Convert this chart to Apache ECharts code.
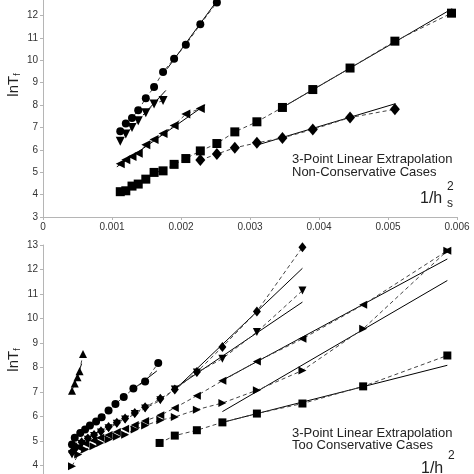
<!DOCTYPE html>
<html>
<head>
<meta charset="utf-8">
<script src="https://cdn.jsdelivr.net/npm/echarts@6/dist/echarts.min.js"></script>
<style>
  html, body { margin: 0; padding: 0; background: #fff; }
  #chart { width: 474px; height: 474px; }
</style>
</head>
<body>
<div id="chart"></div>
<script>
// x values are 1/h^2 in units of 1e-3, y values are lnT_f

// --- top panel: non-conservative cases ---
const topCircX = [1.12, 1.2, 1.29, 1.38, 1.49, 1.61, 1.74, 1.9, 2.07, 2.28, 2.52]
const topCircY = [6.83, 7.17, 7.42, 7.77, 8.3, 8.8, 9.47, 10.07, 10.69, 11.6, 12.58]
const topDownX = [1.12, 1.2, 1.29, 1.38, 1.49, 1.61, 1.74]
const topDownY = [6.38, 6.7, 7.0, 7.3, 7.65, 8.05, 8.2]
const topLeftX = [1.12, 1.2, 1.29, 1.38, 1.49, 1.61, 1.74, 1.9, 2.07, 2.28]
const topLeftY = [5.38, 5.56, 5.7, 5.85, 6.22, 6.46, 6.73, 7.08, 7.6, 7.84]
const topSqX = [1.12, 1.2, 1.29, 1.38, 1.49, 1.61, 1.74, 1.9, 2.07, 2.28, 2.52, 2.78, 3.1, 3.47, 3.91, 4.45, 5.1, 5.92]
const topSqY = [4.13, 4.17, 4.38, 4.47, 4.69, 4.99, 5.06, 5.35, 5.61, 5.95, 6.28, 6.8, 7.25, 7.89, 8.69, 9.65, 10.85, 12.1]
const topDiaX = [2.28, 2.52, 2.78, 3.1, 3.47, 3.91, 4.45, 5.1]
const topDiaY = [5.54, 5.81, 6.09, 6.31, 6.53, 6.91, 7.44, 7.81]

// 3-point fits (end points of the solid lines)
const topCircFit = [[1.8, 9.62], [2.58, 12.9]]
const topDownFit = [[1.45, 7.55], [1.78, 8.65]]
const topLeftFit = [[1.07, 5.24], [2.35, 8.0]]
const topSqFit = [[3.47, 7.89], [5.93, 12.3]]
const topDiaFit = [[3.1, 6.21], [5.11, 8.06]]

// --- bottom panel: too conservative cases ---
const botUpX = [0.42, 0.46, 0.5, 0.53, 0.58]
const botUpY = [7.05, 7.35, 7.6, 7.85, 8.55]
const botCircX = [0.42, 0.46, 0.54, 0.61, 0.68, 0.77, 0.85, 0.95, 1.05, 1.17, 1.31, 1.48, 1.67]
const botCircY = [4.86, 5.13, 5.33, 5.47, 5.63, 5.8, 5.97, 6.24, 6.51, 6.8, 7.14, 7.43, 8.18]
const botMidX = [0.42, 0.48, 0.56, 0.65, 0.74, 0.84, 0.95, 1.07, 1.19, 1.33, 1.48, 1.7, 1.91, 2.23, 2.6, 3.1, 3.76]
const botDiaY = [4.55, 4.75, 4.95, 5.1, 5.25, 5.4, 5.57, 5.74, 5.92, 6.14, 6.38, 6.72, 7.1, 7.82, 8.84, 10.29, 12.91]
const botDownY = [4.45, 4.68, 4.88, 5.05, 5.2, 5.35, 5.52, 5.7, 5.88, 6.1, 6.33, 6.66, 7.1, 7.8, 8.36, 9.45, 11.14]
const botTriX = [0.42, 0.51, 0.61, 0.73, 0.83, 0.95, 1.07, 1.19, 1.33, 1.48, 1.7, 1.91, 2.23, 2.6, 3.1, 3.76, 4.64, 5.86]
const botLeftY = [4.6, 4.75, 4.9, 5.02, 5.13, 5.25, 5.37, 5.5, 5.65, 5.82, 6.05, 6.35, 6.85, 7.46, 8.25, 9.17, 10.56, 12.77]
const botRightY = [3.97, 4.45, 4.65, 4.79, 4.92, 5.06, 5.17, 5.26, 5.47, 5.63, 5.85, 5.98, 6.28, 6.55, 7.07, 7.88, 9.58, 12.77]
const botSqX = [1.69, 1.91, 2.23, 2.6, 3.1, 3.76, 4.64, 5.86]
const botSqY = [4.92, 5.22, 5.44, 5.76, 6.12, 6.53, 7.23, 8.49]

const botUpFit = [[0.44, 7.2], [0.56, 8.15]]
const botCircFit = [[1.31, 7.12], [1.65, 7.86]]
const botDiaFit = [[1.91, 7.09], [3.76, 12.05]]
const botDownFit = [[1.91, 7.15], [3.76, 10.67]]
const botLeftFit = [[2.6, 7.48], [5.86, 12.43]]
const botRightFit = [[2.6, 6.2], [5.86, 11.55]]
const botSqFit = [[2.6, 5.76], [5.86, 8.09]]

const xTicks = ['0', '0.001', '0.002', '0.003', '0.004', '0.005', '0.006']

const FONT = 'Liberation Sans, Arial, Helvetica, sans-serif'

function marks(g, xs, ys, symbol, rotate, size) {
  return {
    type: 'line', xAxisIndex: g, yAxisIndex: g,
    data: xs.map((x, i) => [x, ys[i]]),
    symbol: symbol, symbolRotate: rotate, symbolSize: size,
    itemStyle: { color: '#000' },
    lineStyle: { color: '#444', width: 1, type: [4, 3] },
    z: 3, animation: false
  }
}

function fit(g, line) {
  return {
    type: 'line', xAxisIndex: g, yAxisIndex: g,
    data: line, symbol: 'none',
    lineStyle: { color: '#000', width: 1 },
    z: 2, animation: false
  }
}

function xAxis(g, showLabels) {
  return {
    type: 'value', gridIndex: g, min: 0, max: 6, interval: 1,
    axisLine: { lineStyle: { color: '#b5b5b5' } },
    axisTick: { length: 3, lineStyle: { color: '#b5b5b5' } },
    axisLabel: {
      show: showLabels, fontSize: 10, color: '#333', fontFamily: FONT, margin: 5,
      formatter: v => xTicks[Math.round(v)]
    },
    splitLine: { show: false }
  }
}

function yAxis(g) {
  return {
    type: 'value', gridIndex: g, min: 3, max: 13, interval: 1,
    axisLine: { show: true, lineStyle: { color: '#b5b5b5' } },
    axisTick: { show: true, length: 3, lineStyle: { color: '#b5b5b5' } },
    axisLabel: { fontSize: 10, color: '#333', fontFamily: FONT, margin: 5 },
    splitLine: { show: false }
  }
}

function label(x, y, text, size) {
  return { type: 'text', left: x, top: y, style: { text: text, font: size + 'px ' + FONT, fill: '#222' } }
}

function yName(x, y) {
  return {
    type: 'text', x: x, y: y, rotation: Math.PI / 2,
    style: {
      text: '{a|lnT}{b|f}', align: 'center', verticalAlign: 'middle',
      rich: {
        a: { fontSize: 15, fontFamily: FONT, fill: '#222' },
        b: { fontSize: 9, fontFamily: FONT, fill: '#222', padding: [8, 0, 0, 0] }
      }
    }
  }
}

const chart = echarts.init(document.getElementById('chart'))
chart.setOption({
  backgroundColor: '#fff',
  animation: false,
  grid: [
    { left: 43, right: 17, top: -7, height: 224, outerBoundsMode: 'none', containLabel: false },
    { left: 43, right: 17, top: 245, height: 245, outerBoundsMode: 'none', containLabel: false }
  ],
  xAxis: [xAxis(0, true), xAxis(1, false)],
  yAxis: [yAxis(0), yAxis(1)],
  series: [
    fit(0, topCircFit), fit(0, topDownFit), fit(0, topLeftFit), fit(0, topSqFit), fit(0, topDiaFit),
    marks(0, topCircX, topCircY, 'circle', 0, 8),
    marks(0, topDownX, topDownY, 'triangle', 180, 9),
    marks(0, topLeftX, topLeftY, 'triangle', 90, 9),
    marks(0, topSqX, topSqY, 'rect', 0, 9),
    marks(0, topDiaX, topDiaY, 'diamond', 0, [10, 12]),

    fit(1, botUpFit), fit(1, botCircFit), fit(1, botDiaFit), fit(1, botDownFit),
    fit(1, botLeftFit), fit(1, botRightFit), fit(1, botSqFit),
    marks(1, botUpX, botUpY, 'triangle', 0, 8),
    marks(1, botCircX, botCircY, 'circle', 0, 8),
    marks(1, botMidX, botDiaY, 'diamond', 0, [8, 10]),
    marks(1, botMidX, botDownY, 'triangle', 180, 8),
    marks(1, botTriX, botLeftY, 'triangle', 90, 8),
    marks(1, botTriX, botRightY, 'triangle', -90, 8),
    marks(1, botSqX, botSqY, 'rect', 0, 8)
  ],
  graphic: [
    yName(14, 85),
    yName(14, 360),
    label(292, 153, '3-Point Linear Extrapolation', 13),
    label(292, 166, 'Non-Conservative Cases', 13),
    label(292, 427, '3-Point Linear Extrapolation', 13),
    label(292, 439, 'Too Conservative Cases', 13),
    label(420, 191, '1/h', 16),
    label(447, 181, '2', 12),
    label(447, 198, 's', 12),
    label(421, 461, '1/h', 16),
    label(448, 450, '2', 12)
  ]
})
</script>
</body>
</html>
